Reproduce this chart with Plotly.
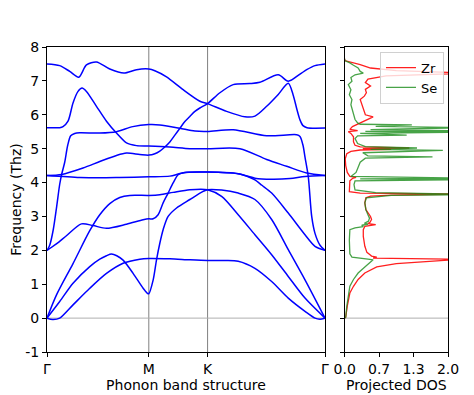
import plotly.graph_objects as go

# ---------------- data ----------------
# k-path positions (percent of total path length)
kpath_labels = ["Γ", "M", "K", "Γ"]
kpath_pos = [0, 36.62, 57.76, 100]

# phonon bands (k in path %, frequency in THz)
band1_k = [0, 2.05, 4.57, 9.36, 15.38, 21.39, 27.37, 33.38, 36.62, 44.18, 51.39, 57.76,
           63.99, 68.78, 74.79, 80.81, 86.78, 92.80, 96.40, 98.20, 100]
band1_f = [0, -0.04, 0.0, 0.39, 0.88, 1.32, 1.62, 1.74, 1.76, 1.75, 1.72, 1.70,
           1.70, 1.68, 1.47, 1.08, 0.59, 0.20, 0.0, -0.03, 0]

band2_k = [0, 4.57, 9.36, 15.38, 18.98, 21.39, 23.19, 25.10, 27.37, 30.97, 34.57, 36.01, 36.62,
           38.17, 39.39, 40.58, 41.77, 43.57, 46.60, 51.39, 56.18, 57.76,
           62.80, 68.78, 74.79, 80.81, 86.78, 92.80, 100]
band2_f = [0, 0.49, 1.03, 1.52, 1.74, 1.84, 1.89, 1.84, 1.71, 1.32, 0.88, 0.74, 0.72,
           1.12, 1.72, 2.21, 2.61, 3.0, 3.25, 3.5, 3.74, 3.79,
           3.78, 3.69, 3.5, 2.91, 2.02, 1.13, 0]

band3_k = [0, 3.38, 9.36, 15.38, 18.98, 22.58, 26.18, 29.78, 36.62, 40.58, 45.37, 51.39, 57.76,
           62.80, 68.78, 74.79, 80.81, 86.78, 92.80, 100]
band3_f = [0, 0.68, 1.61, 2.58, 3.05, 3.38, 3.56, 3.62, 3.62, 3.64, 3.71, 3.79, 3.79,
           3.59, 3.05, 2.46, 1.87, 1.23, 0.59, 0]

band4_k = [0, 3.38, 6.99, 12.39, 16.56, 21.39, 28.59, 34.57, 36.62, 38.17, 39.97, 41.77, 43.57,
           45.37, 47.17, 48.97, 57.76, 68.78, 72.99, 74.79, 77.31, 80.81, 86.78, 92.80, 96.40, 100]
band4_f = [2.0, 2.19, 2.43, 2.78, 2.73, 2.65, 2.77, 2.9, 2.93, 2.93, 3.05, 3.4, 3.69,
           3.99, 4.23, 4.29, 4.31, 4.26, 4.15, 4.08, 3.92, 3.69, 3.1, 2.46, 2.12, 2.0]

band5_k = [0, 0.97, 2.23, 3.49, 4.57, 5.29, 6.37, 7.45, 8.53, 9.97, 11.78, 18.98, 24.99, 30.86, 36.62,
           40.58, 47.79, 53.19, 57.76, 66.98, 79.01, 89.81, 91.0, 92.08, 92.80, 93.99, 95.21,
           96.40, 98.20, 100]
band5_f = [2.0, 2.15, 2.6, 3.3, 3.95, 4.25, 4.6, 5.1, 5.38, 5.45, 5.47, 5.46, 5.5, 5.65, 5.71,
           5.7, 5.6, 5.52, 5.51, 5.56, 5.38, 5.41, 5.36, 5.1, 4.75, 4.17, 3.0,
           2.5, 2.15, 2.0]

band6_k = [0, 11.78, 18.98, 26.18, 36.62, 44.18, 47.17, 49.59, 57.76, 68.78, 74.79, 80.81, 87.40, 92.80, 100]
band6_f = [4.21, 4.15, 4.14, 4.15, 4.17, 4.19, 4.25, 4.3, 4.31, 4.26, 4.13, 4.1, 4.12, 4.18, 4.21]

band7_k = [0, 5.29, 12.96, 18.98, 24.99, 28.59, 33.38, 36.62, 38.78, 40.58, 42.38, 44.18, 45.99,
           47.79, 49.59, 51.39, 53.19, 54.99, 57.76, 62.19, 66.98, 72.99, 76.59, 83.18, 86.78,
           91.00, 93.41, 96.40, 100]
band7_f = [4.21, 4.24, 4.43, 4.62, 4.8, 4.87, 4.83, 4.81, 4.85, 4.93, 5.05, 5.2, 5.4,
           5.6, 5.8, 5.95, 6.1, 6.2, 6.33, 6.65, 6.89, 6.92, 6.96, 7.18, 6.99,
           7.2, 7.33, 7.45, 7.5]

band8_k = [0, 4.57, 5.76, 7.56, 9.36, 11.16, 12.60, 14.19, 17.79, 21.39, 24.99, 28.59, 32.19, 36.62,
           44.18, 51.39, 57.76, 69.39, 79.01, 86.21, 93.41, 100]
band8_f = [5.62, 5.62, 5.65, 5.81, 6.35, 6.69, 6.79, 6.69, 6.25, 5.81, 5.46, 5.17, 5.09, 5.08,
           5.05, 5.0, 5.0, 5.0, 4.68, 4.48, 4.28, 4.21]

band9_k = [0, 4.57, 8.17, 11.42, 14.19, 17.79, 22.58, 27.62, 32.19, 36.62, 38.78, 42.99, 48.97,
           54.99, 57.76, 64.60, 71.19, 74.79, 79.01, 83.18, 86.78, 88.48, 89.92, 91.0, 92.08,
           93.52, 100]
band9_f = [7.5, 7.45, 7.28, 7.11, 7.47, 7.56, 7.35, 7.23, 7.33, 7.35, 7.3, 7.12, 6.74,
           6.40, 6.33, 6.10, 5.94, 5.96, 6.25, 6.6, 6.93, 6.6, 6.15, 5.85, 5.68,
           5.62, 5.61]

# projected DOS (frequency in THz, DOS value)
zr_freq = [0.0, 0.03, 0.35, 0.74, 0.94, 1.14, 1.33, 1.51, 1.61, 1.67, 1.71, 1.73, 1.75, 1.77, 1.80,
           1.83, 1.87, 1.94, 2.12, 2.41, 2.61, 2.71, 2.76, 2.79, 2.83, 2.91, 3.0, 3.1, 3.2, 3.4,
           3.55, 3.6, 3.63, 3.66, 3.69, 3.73, 3.9, 4.05, 4.12, 4.15, 4.18, 4.3, 4.5, 4.7, 4.85,
           4.92, 4.96, 4.98, 5.0, 5.02, 5.05, 5.1, 5.2, 5.35, 5.45, 5.5, 5.53, 5.57, 5.65, 5.72,
           5.8, 5.88, 5.94, 6.0, 6.15, 6.3, 6.45, 6.55, 6.65, 6.75, 6.85, 6.95, 7.05, 7.15, 7.23,
           7.3, 7.38, 7.48, 7.55, 7.6, 7.65]
zr_dos = [0.0, 0.02, 0.05, 0.10, 0.17, 0.26, 0.39, 0.62, 1.0, 1.52, 2.0, 2.6, 1.2, 0.55, 0.62,
          0.52, 0.49, 0.43, 0.39, 0.36, 0.36, 0.39, 0.6, 0.45, 0.49, 0.52, 0.5, 0.46, 0.41, 0.39,
          0.41, 0.5, 0.9, 2.5, 0.3, 0.09, 0.09, 0.1, 0.15, 0.22, 0.1, 0.05, 0.02, 0.01, 0.04,
          0.12, 0.3, 0.9, 0.35, 1.25, 0.3, 0.2, 0.17, 0.17, 0.12, 0.07, 0.25, 0.1, 0.15, 0.25,
          0.35, 0.45, 0.55, 0.4, 0.37, 0.33, 0.3, 0.38, 0.42, 0.4, 0.5, 0.4, 0.45, 0.8, 2.5,
          1.0, 0.5, 0.3, 0.12, 0.0, 0.0]

se_freq = [0.0, 0.03, 0.35, 0.74, 0.94, 1.14, 1.33, 1.51, 1.63, 1.72, 1.74, 1.77, 1.80, 1.90, 2.3,
           2.61, 2.66, 2.70, 2.74, 2.77, 2.80, 2.86, 2.95, 3.05, 3.2, 3.4, 3.55, 3.62, 3.65, 3.70,
           3.78, 3.94, 4.05, 4.09, 4.11, 4.13, 4.16, 4.18, 4.3, 4.45, 4.6, 4.72, 4.76, 4.79, 4.88,
           4.95, 4.98, 5.02, 5.06, 5.15, 5.3, 5.38, 5.40, 5.45, 5.49, 5.51, 5.53, 5.56, 5.62, 5.66,
           5.70, 5.72, 5.76, 5.86, 6.0, 6.15, 6.3, 6.45, 6.59, 6.74, 6.89, 6.99, 7.1, 7.18, 7.23,
           7.28, 7.38, 7.46, 7.53, 7.6, 7.65]
se_dos = [0.0, 0.02, 0.04, 0.07, 0.10, 0.17, 0.26, 0.39, 0.49, 0.55, 0.45, 0.25, 0.14, 0.10, 0.09,
          0.10, 0.2, 0.36, 0.33, 0.45, 0.38, 0.46, 0.48, 0.45, 0.41, 0.39, 0.42, 0.9, 2.5, 0.6,
          0.2, 0.18, 0.2, 2.4, 0.3, 2.4, 0.15, 0.12, 0.22, 0.26, 0.3, 0.4, 1.7, 0.45, 0.35,
          1.9, 0.5, 1.4, 0.4, 0.25, 0.2, 0.25, 1.2, 0.3, 2.3, 0.4, 2.3, 0.5, 2.3, 0.6,
          1.3, 0.3, 0.25, 0.2, 0.17, 0.15, 0.12, 0.14, 0.09, 0.12, 0.07, 0.14, 0.12, 0.2, 0.36,
          0.3, 0.26, 0.17, 0.1, 0.0, 0.0]

dos_ticks = [0, 2 / 3, 4 / 3, 2]
dos_ticktext = ["0.0", "0.7", "1.3", "2.0"]
freq_ticks = list(range(-1, 9))
freq_ticktext = ["-1"] + [str(v) for v in range(0, 9)]

# ---------------- figure ----------------
FONT = "DejaVu Sans"
FS = 14
fig = go.Figure()

bands = [(band1_k, band1_f), (band2_k, band2_f), (band3_k, band3_f), (band4_k, band4_f),
         (band5_k, band5_f), (band6_k, band6_f), (band7_k, band7_f), (band8_k, band8_f),
         (band9_k, band9_f)]
for k, f in bands:
    fig.add_trace(go.Scatter(x=k, y=f, mode="lines", showlegend=False, hoverinfo="skip",
                             line=dict(color="#0000ff", width=1.5, shape="spline", smoothing=0.8),
                             xaxis="x", yaxis="y"))

fig.add_trace(go.Scatter(x=zr_dos, y=zr_freq, mode="lines", name="Zr",
                         line=dict(color="#ff2020", width=1.3), xaxis="x2", yaxis="y2"))
fig.add_trace(go.Scatter(x=se_dos, y=se_freq, mode="lines", name="Se", opacity=0.8,
                         line=dict(color="#1a8c1a", width=1.3), xaxis="x2", yaxis="y2"))

shapes = []
for p in kpath_pos[1:3]:
    shapes.append(dict(type="line", xref="x", yref="y", x0=p, x1=p, y0=-1, y1=8,
                       line=dict(color="#808080", width=1), layer="below"))
shapes.append(dict(type="line", xref="x", yref="y", x0=0, x1=100, y0=0, y1=0,
                   line=dict(color="#b0b0b0", width=1), layer="below"))
shapes.append(dict(type="line", xref="x2", yref="y2", x0=0, x1=2, y0=0, y1=0,
                   line=dict(color="#b0b0b0", width=1), layer="below"))

axis_common = dict(showline=True, mirror=True, linecolor="black", linewidth=1,
                   ticks="outside", ticklen=4, tickwidth=1, tickcolor="black",
                   showgrid=False, zeroline=False, automargin=False,
                   tickfont=dict(family=FONT, size=FS, color="black"))

# the page body has an 8px margin, so the figure is 8px smaller than the window
fig.update_layout(
    width=466, height=387,
    margin=dict(l=39, r=26, t=39, b=43),
    paper_bgcolor="white", plot_bgcolor="white",
    font=dict(family=FONT, size=FS, color="black"),
    shapes=shapes,
    xaxis=dict(domain=[0, 0.6933], range=[0, 100], tickmode="array",
               tickvals=kpath_pos, ticktext=kpath_labels, anchor="y",
               title=dict(text="Phonon band structure", standoff=2,
                          font=dict(family=FONT, size=FS)),
               **axis_common),
    yaxis=dict(domain=[0, 1], range=[-1, 8], tickmode="array", tickvals=freq_ticks,
               ticktext=freq_ticktext, anchor="x",
               title=dict(text="Frequency (Thz)", standoff=5, font=dict(family=FONT, size=FS)),
               **axis_common),
    xaxis2=dict(domain=[0.7424, 1.0], range=[0, 2], tickmode="array", tickvals=dos_ticks,
                ticktext=dos_ticktext, anchor="y2",
                title=dict(text="Projected DOS", standoff=2, font=dict(family=FONT, size=FS)),
                **axis_common),
    yaxis2=dict(domain=[0, 1], range=[-1, 8], tickmode="array", tickvals=freq_ticks,
                showticklabels=False, anchor="x2", **axis_common),
    legend=dict(x=0.99, y=0.985, xanchor="right", yanchor="top",
                bgcolor="rgba(255,255,255,0.8)", bordercolor="#d0d0d0", borderwidth=1,
                font=dict(family=FONT, size=13), tracegroupgap=0),
)

fig.write_html("out.html")
